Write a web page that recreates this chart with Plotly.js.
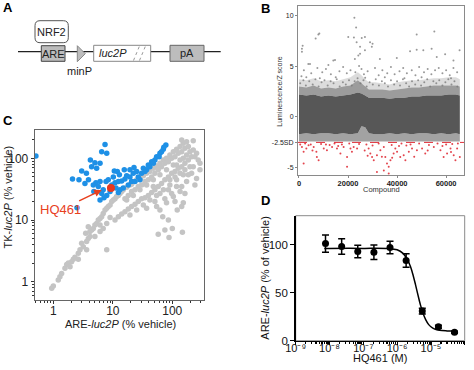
<!DOCTYPE html>
<html><head><meta charset="utf-8">
<script src="https://cdn.plot.ly/plotly-3.0.1.min.js"></script>
<style>html,body{margin:0;padding:0;background:#fff}#chart{width:474px;height:370px}</style>
</head><body><div id="chart"></div>
<script>
// ---------- Panel B: screening Z scores ----------
const bandX      = [0,3000,6000,9000,12000,15000,18000,21000,24000,25500,27000,28500,31000,34000,37000,40000,43000,46000,49000,52000,55000,58000,61000,64000,65600];
const coreHigh   = [2.2,2.1,2.2,2.0,2.1,2.0,2.1,2.2,2.4,2.3,2.1,1.9,1.9,1.9,1.8,1.9,1.9,2.0,2.0,2.1,2.1,2.1,2.2,2.2,2.1];
const coreLow    = [-1.7,-1.6,-1.7,-1.6,-1.6,-1.7,-1.6,-1.7,-1.6,-0.9,-1.0,-1.6,-1.7,-1.7,-1.6,-1.7,-1.6,-1.7,-1.6,-1.6,-1.7,-1.6,-1.7,-1.6,-1.7];
const fringeHigh = [3.0,2.9,3.1,2.8,2.9,2.8,3.0,3.1,3.6,3.3,3.0,2.7,2.7,2.7,2.6,2.7,2.8,2.9,2.9,3.0,3.1,3.1,3.1,3.1,3.0];
const haloHigh   = [3.7,3.6,3.8,3.5,3.6,3.5,3.7,3.9,4.4,4.1,3.7,3.4,3.4,3.3,3.2,3.4,3.5,3.6,3.6,3.7,3.8,3.8,3.9,3.9,3.7];
const fringeLow  = [-2.4,-2.4,-2.4,-2.4,-2.4,-2.4,-2.4,-2.4,-2.4,-2.4,-2.4,-2.4,-2.4,-2.4,-2.4,-2.4,-2.4,-2.4,-2.4,-2.4,-2.4,-2.4,-2.4,-2.4,-2.4];
const grayHits = [[1200,6.7],[1200,6.4],[1500,7.0],[6800,7.7],[7900,8.1],[8300,8.2],[22600,9.75],[23300,8.8],[20100,7.85],[22400,7.8],[23500,7.35],[24900,6.9],[25600,7.75],[26900,7.85],[29000,7.35],[29700,6.9],[30000,7.2],[26900,6.55],[24900,6.2],[24200,6.05],[22800,5.7],[48000,8.1],[55200,8.4],[45300,6.45],[48000,6.6],[50700,6.55],[54100,6.7],[59600,6.15],[65500,6.55],[56200,5.9],[39900,5.8],[33000,5.7],[14700,5.6],[14000,5.55],[3800,5.2],[4500,5.2],[12000,5.1],[63000,5.55],
[2000,4.6],[5000,4.3],[7500,4.8],[9500,4.4],[11000,4.7],[13000,4.2],[16500,4.5],[18000,4.9],[19500,4.3],[21000,4.6],[23000,4.4],[24500,5.0],[25500,4.7],[26500,4.2],[28000,4.5],[31000,4.8],[32500,4.1],[34000,4.6],[36000,4.3],[37500,4.9],[39000,4.2],[41000,4.5],[42500,4.8],[44000,4.3],[46000,4.6],[47500,4.1],[49000,4.9],[51000,4.4],[52500,4.7],[54000,4.2],[55500,4.6],[57000,4.8],[58500,4.3],[60000,4.6],[61500,4.1],[63000,4.8],[64500,4.4],[1000,4.0],[3000,3.9],[8500,3.8],[15000,3.9],[27000,3.85],[35000,3.9],[43000,3.8],[50000,3.9],[62000,3.8],
[500,3.3],[1800,3.6],[2800,3.1],[4200,3.5],[5600,3.2],[6700,3.7],[8000,3.0],[9200,3.4],[10400,3.6],[11700,3.1],[12900,3.5],[14100,3.3],[15400,3.7],[16600,3.0],[17900,3.4],[19100,3.2],[20400,3.6],[21500,3.1],[22700,3.5],[23900,3.8],[25100,3.3],[26300,3.6],[27600,3.0],[28800,3.4],[30100,3.2],[31300,3.7],[32600,3.1],[33800,3.5],[35000,3.3],[36300,3.0],[37500,3.6],[38800,3.2],[40000,3.5],[41200,3.1],[42400,3.7],[43700,3.3],[44900,3.0],[46100,3.5],[47400,3.2],[48600,3.6],[49800,3.1],[51100,3.4],[52300,3.7],[53500,3.0],[54800,3.5],[56000,3.3],[57200,3.6],[58500,3.1],[59700,3.4],[60900,3.7],[62200,3.2],[63400,3.5],[64600,3.0]];
const redHits = [[1200,-2.94],[1900,-3.42],[3900,-2.78],[6000,-2.94],[7300,-3.92],[8000,-4.24],[7100,-3.42],[10100,-3.1],[11400,-3.26],[13500,-2.94],[15500,-3.1],[16900,-3.59],[18200,-2.94],[19600,-3.92],[21600,-3.42],[22300,-2.94],[23700,-3.1],[28400,-3.1],[29100,-3.59],[29800,-3.92],[30500,-4.24],[31800,-3.75],[33200,-3.26],[34600,-2.94],[35200,-3.92],[35900,-4.57],[36600,-4.9],[37300,-4.24],[38600,-3.59],[39300,-3.1],[40000,-3.42],[41300,-3.92],[42700,-3.75],[43400,-4.24],[44800,-3.42],[46100,-3.1],[48100,-3.26],[50200,-3.1],[51500,-3.59],[55000,-2.94],[57700,-3.26],[59000,-3.92],[60400,-3.59],[61800,-3.1],[63100,-3.75],[63800,-4.24],[64500,-3.1],[65600,-3.92],[1900,-4.57],[19600,-4.9],[31800,-5.4],[34600,-5.25],[36600,-5.55],
[2500,-2.6],[4800,-2.7],[9000,-2.65],[12500,-2.75],[14500,-2.6],[17500,-2.7],[20500,-2.6],[24500,-2.65],[27500,-2.7],[32500,-2.6],[37800,-2.75],[41800,-2.6],[45500,-2.7],[49000,-2.6],[53000,-2.75],[56500,-2.6],[60000,-2.7],[62500,-2.65],[64800,-2.6],[500,-2.7],[3000,-3.1],[5500,-3.3],[26800,-3.3],[28000,-3.8],[30000,-2.8],[33800,-3.9],[38000,-4.0],[40800,-2.85],[43800,-2.8],[47000,-3.9],[52500,-3.3],[58500,-2.85],[62000,-3.45],[16000,-2.85],[11000,-2.7],[21000,-3.1]];
const bTickVals = [-5,-2.5,0,5,10];
const bTickText = ['-5','-2.5SD','0','5','10'];
const bXTicks = [0,20000,40000,60000];
const cutoff = -2.5;

// ---------- Panel C: counter-screen ----------
const blueX = [0.51,7.4,4.2,5.0,4.4,6.1,5.35,3.6,3.9,3.0,2.7,2.1,3.4,5.2,6.1,7.7,6.9,5.7,4.7,4.8,6.5,7.9,9.0,10.6,10.2,11.9,10.9,12.9,14.1,15.6,17.1,19.4,20.7,22.1,25.2,26.8,32.6,30.5,37,42,45,51,54.5,62,66,70.6,78,72,60,48,39.5,34.7,28.6,23.6,18.2,15.0,13.2,11.3,9.6,8.4,7.1,6.1,2.5,7.9,6.5,12.4,16,19.4,22.7,12.4];
const blueY = [109,167,94,85,73,83,69,57,45,62,45,46,39,40,42,42,31,35,37,29,27,25,29,62,50,61,40,54,43,65,52,50,42,57,61,50,69,57,65,73,88,94,106,121,128,140,165,151,106,83,78,61,45,42,37,33,31,33,37,45,23,21,15.8,121,128,28,46,65,71,42];
const grayC = [[0.94,0.78],[1.0,0.85],[1.21,1.06],[1.29,1.2],[1.38,1.36],[1.57,1.65],[1.68,1.9],[1.79,2.0],[1.91,1.75],[2.03,2.1],[2.17,2.3],[2.31,2.5],[2.63,2.9],[2.81,3.3],[3.19,3.7],[2.99,4.2],[3.63,4.5],[3.87,5.0],[4.13,5.4],[3.63,3.3],[4.41,6.9],[4.70,7.3],[5.0,8.3],[5.35,8.8],[5.7,10],[6.1,10.6],[6.5,11.3],[6.1,8.3],[6.9,12.8],[7.4,14.5],[7.9,15.5],[8.4,16.5],[9.0,17.5],[9.6,20],[10.2,21],[10.9,22],[11.6,24],[3.87,7.8],[4.13,6.5],[5.0,5.4],[6.1,6.5],[6.9,7.3],[7.9,8.8],[9.0,11.0],[2.63,2.3],[7.9,3.3],[3.5,6.1],
[12.4,25],[13.2,27],[14.1,29],[15.0,31],[17.1,34],[19.4,37],[20.7,38],[22.1,42],[25.2,45],[28.6,47],[32.6,52],[37,57],[42,61],[48,69],[54.5,75],[62,83],[70.6,94],[80,100],[91,113],[104,128],[118,140],[135,155],[153,175],[174,186],[144,198],[225,193],[256,121],[292,83],[211,106],[186,94],[163,83],[144,73],[126,69],[111,61],[97.5,57],[86,50],[75,45],[66,39],[58,35],[51,31],[45,28],[39.5,25],[34.7,23],[30.5,22],[26.8,20],[23.6,18],[20.7,16.5],[18.2,15.1],[16,13.6],[14.1,12.5],[12.4,11.3],[10.9,10],[17.1,21],[22.1,25],[28.6,31],[37,37],[48,45],[62,54],[80,65],[104,78],[135,94],[174,113],[225,137],[198,73],[153,54],[118,45],[91,37],[71,31],[54.5,25],[42,21],[32.6,17.5],[25.2,14.5],[19.4,12.1],[174,42],[144,35],[256,47],[211,57],[292,65],[135,29],[104,24],[80,19],[62,14.5],[118,35],[163,27],[111,20],[240,37],
[69,11.3],[58,5.9],[75,6.9],[100,7.3],[88,5.2],[148,6.3],[121,14.5],[153,19],[144,16.5],[54.5,16.5],[86,10],
[16,22],[18.2,25],[20.7,29],[23.6,31],[26.8,35],[30.5,37],[34.7,42],[39.5,45],[45,50],[51,57],[58,65],[66,73],[75,83],[86,88],[97.5,100],[111,106],[126,121],[144,128],[163,145],[186,155],[198,128],[240,106],[273,94],[86,31],[97.5,27],[75,22],[51,20],[37,15.5],[48,35],[62,27],[91,45],[111,50],[135,57],[163,65],[186,54],[225,73],[153,100],[118,78]];
const hitX = [9.3], hitY = [33];
const cTicks = [1,10,100];

// ---------- Panel D: dose response ----------
const doseM  = [7.62e-9,2.29e-8,6.86e-8,2.06e-7,6.17e-7,1.85e-6,5.56e-6,1.67e-5,5.0e-5];
const meanPct= [101,98,92.7,92,97,83.4,30.8,14.5,8.7];
const sdPct  = [9,8,6.5,7.5,6.5,7,3,1.5,1];
const fitX = [7e-9,1e-8,1e-7,5e-7,1e-6,1.5e-6,2e-6,2.5e-6,3e-6,3.5e-6,4e-6,4.5e-6,5e-6,6e-6,7e-6,8.5e-6,1e-5,1.3e-5,1.8e-5,3e-5,5e-5];
const fitY = [96,96,96,95.8,94.6,90.8,84.5,76.9,67.6,58.3,49.7,42.3,36.2,27.4,21.9,17.0,14.5,12.1,10.8,10.2,10.05];
const dTickVals = [1e-9,1e-8,1e-7,1e-6,1e-5,1e-4];
const dTickText = ['10\u207B\u2079','10\u207B\u2078','10\u207B\u2077','10\u207B\u2076','10\u207B\u2075','10\u207B\u2074'];

const F = 'Liberation Sans, Arial, sans-serif';
const ax = (o)=>Object.assign({showgrid:false, zeroline:false, fixedrange:true}, o);
const band = (lo, hi, color) => [
  {x:bandX, y:lo, xaxis:'x', yaxis:'y', mode:'lines', line:{width:0}, hoverinfo:'skip'},
  {x:bandX, y:hi, xaxis:'x', yaxis:'y', mode:'lines', line:{width:0}, fill:'tonexty', fillcolor:color, hoverinfo:'skip'}
];
const label = (px, py, text, size, color, angle) => ({xref:'paper', yref:'paper', x:px/474, y:1-py/370, text:text,
  showarrow:false, xanchor:'center', yanchor:'middle', textangle:angle||0, font:{size:size, color:color}});

const traces = [
  ...band(fringeHigh, haloHigh, 'rgba(130,130,130,0.28)'),
  ...band(coreHigh, fringeHigh, 'rgba(95,95,95,0.62)'),
  ...band(fringeLow, coreLow, 'rgba(95,95,95,0.58)'),
  ...band(coreLow, coreHigh, '#575757'),
  {x:grayHits.map(p=>p[0]), y:grayHits.map(p=>p[1]), xaxis:'x', yaxis:'y', mode:'markers', marker:{size:2, color:'#777', opacity:0.75}},
  {x:redHits.map(p=>p[0]), y:redHits.map(p=>p[1]), xaxis:'x', yaxis:'y', mode:'markers', marker:{size:2, color:'#e0303a', opacity:0.9}},
  {x:grayC.map(p=>p[0]), y:grayC.map(p=>p[1]), xaxis:'x2', yaxis:'y2', mode:'markers', marker:{size:5.5, color:'#c4c4c4'}},
  {x:blueX, y:blueY, xaxis:'x2', yaxis:'y2', mode:'markers', marker:{size:5.5, color:'#1e90e6'}},
  {x:hitX, y:hitY, xaxis:'x2', yaxis:'y2', mode:'markers', marker:{size:8, color:'#e8371e'}},
  {x:fitX, y:fitY, xaxis:'x3', yaxis:'y3', mode:'lines', line:{color:'#000', width:1.5, shape:'spline'}},
  {x:doseM, y:meanPct, xaxis:'x3', yaxis:'y3', mode:'markers', marker:{size:7, color:'#000'},
   error_y:{type:'data', array:sdPct, thickness:1.5, width:3.5, color:'#000'}}
];

const layout = {
  width:474, height:370, margin:{l:0,r:0,t:0,b:0}, showlegend:false,
  paper_bgcolor:'#fff', plot_bgcolor:'rgba(0,0,0,0)', font:{family:F, color:'#222'},
  xaxis: ax({domain:[298/474,464/474], anchor:'y', range:[-400,67300], tickvals:bXTicks, ticktext:bXTicks.map(String),
    tickfont:{size:7.5, color:'#222', weight:'bold'}, ticks:'outside', ticklen:2, tickcolor:'#888', ticklabelstandoff:-1,
    showline:true, linecolor:'#8a8a8a', mirror:true, linewidth:1}),
  yaxis: ax({domain:[1-175/370,1-6/370], anchor:'x', range:[-5.7,10.9], tickvals:bTickVals, ticktext:bTickText,
    tickfont:{size:7, color:'#222'}, ticks:'outside', ticklen:2, tickcolor:'#888',
    showline:true, linecolor:'#8a8a8a', mirror:true, linewidth:1}),
  xaxis2: ax({domain:[34.7/474,204/474], anchor:'y2', type:'log', range:[-0.313,2.533], tickvals:cTicks, ticktext:cTicks.map(String),
    tickfont:{size:12, color:'#222'}, ticks:'outside', ticklen:3, tickcolor:'#333', ticklabelstandoff:-3,
    minor:{ticks:'outside', ticklen:2, tickcolor:'#333', dtick:'D1'},
    showline:true, linecolor:'#666', mirror:true, linewidth:1}),
  yaxis2: ax({domain:[1-300/370,1-130/370], anchor:'x2', type:'log', range:[-0.297,2.459], tickvals:cTicks, ticktext:cTicks.map(String),
    tickfont:{size:12, color:'#222'}, ticks:'outside', ticklen:3, tickcolor:'#333',
    minor:{ticks:'outside', ticklen:2, tickcolor:'#333', dtick:'D1'},
    showline:true, linecolor:'#666', mirror:true, linewidth:1}),
  xaxis3: ax({domain:[295.7/474,464.7/474], anchor:'y3', type:'log', range:[-9,-4], tickvals:dTickVals, ticktext:dTickText,
    tickfont:{size:11, color:'#111'}, ticks:'outside', ticklen:3, tickcolor:'#000', tickwidth:1.2, ticklabelstandoff:-6,
    minor:{ticks:'outside', ticklen:2, tickcolor:'#000', dtick:'D1'},
    showline:true, linecolor:'#000', linewidth:1.5}),
  yaxis3: ax({domain:[1-340.7/370,1-215.7/370], anchor:'x3', range:[0,130], tickvals:[0,50,100],
    tickfont:{size:11.5, color:'#111'}, ticks:'outside', ticklen:4, tickcolor:'#000', tickwidth:1.2,
    showline:true, linecolor:'#000', linewidth:1.5}),
  xaxis4: ax({domain:[0,237/474], anchor:'y4', range:[0,237], visible:false}),
  yaxis4: ax({domain:[1-100/370,1], anchor:'x4', range:[100,0], visible:false}),
  shapes: [
    {type:'line', xref:'x domain', yref:'y', x0:0, x1:1, y0:cutoff, y1:cutoff, line:{color:'#e0303a', width:1, dash:'dash'}},
    {type:'rect', xref:'x3 domain', yref:'y3 domain', x0:0, x1:1, y0:0, y1:1, line:{color:'#8a8a8a', width:1}, layer:'below'},
    {type:'line', xref:'x4', yref:'y4', x0:18, x1:220.7, y0:51.7, y1:51.7, line:{color:'#222', width:1.3}},
    {type:'path', xref:'x4', yref:'y4', path:'M40,20.7 L63.3,20.7 Q68.3,20.7 68.3,25.7 L68.3,37.7 Q68.3,42.7 63.3,42.7 L40,42.7 Q35,42.7 35,37.7 L35,25.7 Q35,20.7 40,20.7 Z', fillcolor:'#fff', line:{color:'#555', width:1}},
    {type:'rect', xref:'x4', yref:'y4', x0:41.3, x1:65, y0:45.7, y1:61.3, fillcolor:'#bcbcbc', line:{color:'#444', width:1}},
    {type:'path', xref:'x4', yref:'y4', path:'M77.3,45.7 L85.3,53.7 L77.3,61.7 Z', fillcolor:'#bdbdbd', line:{color:'#888', width:1}},
    {type:'rect', xref:'x4', yref:'y4', x0:93.7, x1:150.7, y0:45.3, y1:61.3, fillcolor:'#fff', line:{color:'#888', width:1}},
    {type:'line', xref:'x4', yref:'y4', x0:133.5, x1:139.5, y0:60.5, y1:46, line:{color:'#999', width:1, dash:'dot'}},
    {type:'line', xref:'x4', yref:'y4', x0:139.5, x1:145.5, y0:60.5, y1:46, line:{color:'#999', width:1, dash:'dot'}},
    {type:'rect', xref:'x4', yref:'y4', x0:170, x1:204, y0:45.3, y1:61.3, fillcolor:'#bdbdbd', line:{color:'#666', width:1}}
  ],
  annotations: [
    {xref:'paper', yref:'paper', x:1/474, y:1-7/370, text:'<b>A</b>', showarrow:false, xanchor:'left', yanchor:'middle', font:{size:13, color:'#000'}},
    {xref:'paper', yref:'paper', x:259/474, y:1-8/370, text:'<b>B</b>', showarrow:false, xanchor:'left', yanchor:'middle', font:{size:13, color:'#000'}},
    {xref:'paper', yref:'paper', x:1/474, y:1-120/370, text:'<b>C</b>', showarrow:false, xanchor:'left', yanchor:'middle', font:{size:13, color:'#000'}},
    {xref:'paper', yref:'paper', x:259/474, y:1-200/370, text:'<b>D</b>', showarrow:false, xanchor:'left', yanchor:'middle', font:{size:13, color:'#000'}},
    {xref:'x4', yref:'y4', x:51.7, y:32, text:'NRF2', showarrow:false, font:{size:11, color:'#222'}},
    {xref:'x4', yref:'y4', x:53.2, y:53.5, text:'ARE', showarrow:false, font:{size:11, color:'#222'}},
    {xref:'x4', yref:'y4', x:79, y:71, text:'minP', showarrow:false, font:{size:11, color:'#222'}},
    {xref:'x4', yref:'y4', x:113, y:52.5, text:'<i>luc2P</i>', showarrow:false, font:{size:11, color:'#222'}},
    {xref:'x4', yref:'y4', x:187, y:52.5, text:'pA', showarrow:false, font:{size:11, color:'#222'}},
    label(280, 91.7, 'Luminescence/Z score', 7, '#333', -90),
    label(381, 189.5, 'Compound', 7.5, '#333'),
    label(7.5, 197, 'TK-<i>luc2P</i> (% vehicle)', 11, '#222', -90),
    label(120.7, 324, 'ARE-<i>luc2P</i> (% vehicle)', 11, '#222'),
    {xref:'x2', yref:'y2', x:Math.log10(6.5), y:Math.log10(30.7), text:'HQ461', showarrow:true, arrowhead:2, arrowsize:1, arrowwidth:1.5, arrowcolor:'#e8401e',
      ax:-41, ay:20, font:{size:13, color:'#e8401e'}},
    label(265.3, 277.4, 'ARE-<i>luc2P</i> (% of vehicle)', 11, '#111', -90),
    label(379.7, 358, 'HQ461 (M)', 11, '#111')
  ]
};

Plotly.newPlot('chart', traces, layout, {staticPlot:true, displayModeBar:false});
</script></body></html>
